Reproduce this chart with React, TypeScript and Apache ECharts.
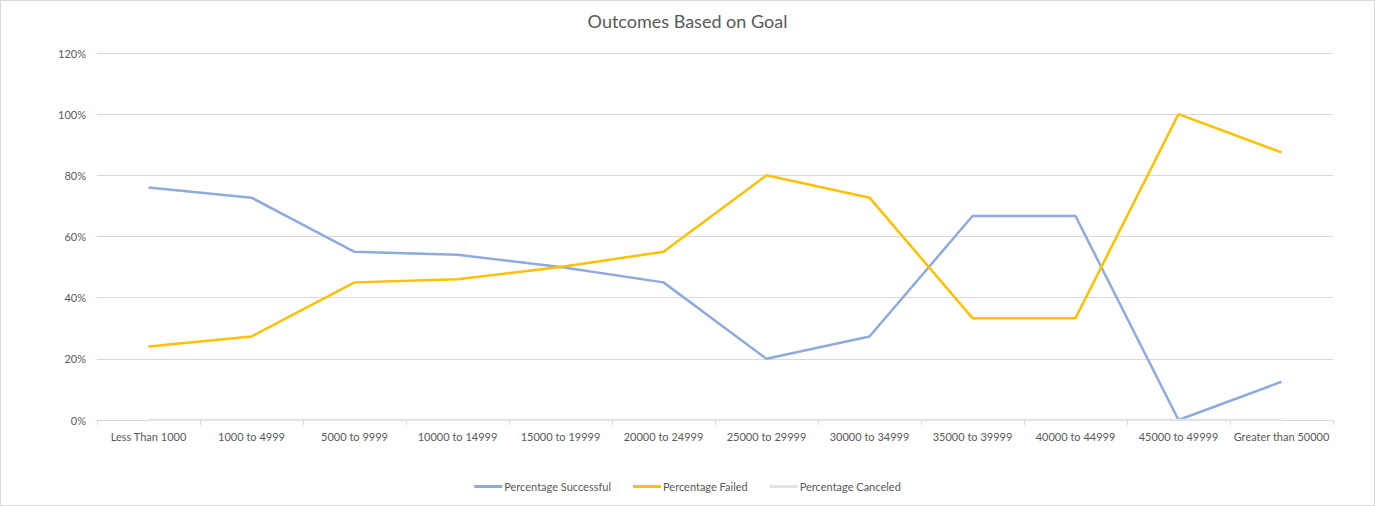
import * as echarts from "echarts"
import { useEffect, useRef } from "react"

const categories = [
    "Less Than 1000", "1000 to 4999", "5000 to 9999", "10000 to 14999",
    "15000 to 19999", "20000 to 24999", "25000 to 29999", "30000 to 34999",
    "35000 to 39999", "40000 to 44999", "45000 to 49999", "Greater than 50000",
]
const successful = [76, 72.7, 55, 54, 50, 45, 20, 27.3, 66.7, 66.7, 0, 12.5]
const failed = [24, 27.3, 45, 46, 50, 55, 80, 72.7, 33.3, 33.3, 100, 87.5]
const canceled = [0, 0, 0, 0, 0, 0, 0, 0, 0, 0, 0, 0]

const FONT = "Lato, 'Open Sans', sans-serif"
const TEXT = "#595959"

const App: React.FC = () => {
    const ref = useRef<HTMLDivElement | null>(null)

    useEffect(() => {
        const chart = echarts.init(ref.current!, null, { renderer: "svg" })
        const line = (name: string, data: number[], color: string) => ({
            name,
            type: "line",
            data,
            symbol: "none",
            lineStyle: { color, width: 2.5 },
            itemStyle: { color },
        })
        chart.setOption({
            animation: false,
            textStyle: { fontFamily: FONT },
            title: {
                text: "Outcomes Based on Goal",
                left: "center",
                top: 6,
                textStyle: { fontFamily: FONT, fontSize: 18, fontWeight: "normal", color: TEXT },
            },
            legend: {
                bottom: 8,
                left: "center",
                itemWidth: 28,
                itemHeight: 3,
                itemGap: 22,
                icon: "rect",
                textStyle: { fontFamily: FONT, fontSize: 11, color: TEXT, padding: [0, 0, 0, -3] },
                data: ["Percentage Successful", "Percentage Failed", "Percentage Canceled"],
            },
            grid: { left: 96, right: 41, top: 52, bottom: 85, containLabel: false },
            xAxis: {
                type: "category",
                data: categories,
                boundaryGap: true,
                axisLine: { lineStyle: { color: "#d9d9d9", width: 1 } },
                axisTick: { show: true, length: 5, lineStyle: { color: "#d9d9d9" } },
                axisLabel: { color: TEXT, fontSize: 11, fontFamily: FONT, margin: 11, interval: 0 },
            },
            yAxis: {
                type: "value",
                min: 0,
                max: 120,
                interval: 20,
                axisLine: { show: false },
                axisTick: { show: false },
                axisLabel: { color: TEXT, fontSize: 11, fontFamily: FONT, margin: 11, formatter: "{value}%" },
                splitLine: { lineStyle: { color: "#d9d9d9", width: 1 } },
            },
            series: [
                line("Percentage Successful", successful, "#8faadc"),
                line("Percentage Failed", failed, "#ffc000"),
                line("Percentage Canceled", canceled, "#e2e2e2"),
            ],
        })
        return () => chart.dispose()
    }, [])

    return (
        <div
            style={{
                position: "fixed", left: 0, top: 0, width: 1375, height: 506,
                boxSizing: "border-box", border: "1px solid #d9d9d9", background: "#fff",
            }}
        >
            <div ref={ref} style={{ width: "100%", height: "100%" }} />
        </div>
    )
}

export default App
